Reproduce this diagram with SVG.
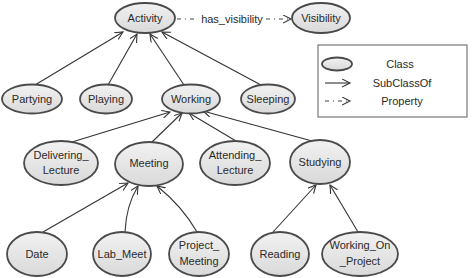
<svg xmlns="http://www.w3.org/2000/svg" width="474" height="278" viewBox="0 0 474 278">
<style>
.n{fill:url(#g);stroke:#4a4a4a;stroke-width:1.8}
.t{font-family:"Liberation Sans",Arial,sans-serif;font-size:11px;fill:#2a2a2a;text-anchor:middle}
.e{fill:none;stroke:#333;stroke-width:1.1}
.d{fill:none;stroke:#444;stroke-width:1.1;stroke-dasharray:4,4,1,4}
</style>
<defs>
<linearGradient id="g" x1="0" y1="0" x2="0" y2="1">
<stop offset="0" stop-color="#f2f2f2"/>
<stop offset="1" stop-color="#d9d9d9"/>
</linearGradient>
<marker id="a" markerUnits="userSpaceOnUse" markerWidth="10" markerHeight="10" refX="8" refY="4" orient="auto" viewBox="0 0 10 10">
<path d="M0,0 L8,4 L0,8" fill="none" stroke="#333" stroke-width="1.1"/>
</marker>
</defs>
<rect width="474" height="278" fill="#fff"/>
<g id="connectors">
<line class="e" x1="35" y1="85" x2="123" y2="32" marker-end="url(#a)"/>
<line class="e" x1="108" y1="85" x2="137" y2="34" marker-end="url(#a)"/>
<line class="e" x1="184" y1="85" x2="150" y2="34" marker-end="url(#a)"/>
<line class="e" x1="261" y1="85" x2="162" y2="32" marker-end="url(#a)"/>
<line class="e" x1="72" y1="142" x2="170" y2="112" marker-end="url(#a)"/>
<line class="e" x1="152" y1="142" x2="182" y2="113" marker-end="url(#a)"/>
<line class="e" x1="236" y1="141" x2="189" y2="113" marker-end="url(#a)"/>
<line class="e" x1="312" y1="141" x2="203" y2="111" marker-end="url(#a)"/>
<line class="e" x1="43" y1="232" x2="128" y2="183" marker-end="url(#a)"/>
<path class="e" d="M125,232 Q126,206 138,186" marker-end="url(#a)"/>
<path class="e" d="M197,232 Q182,206 157,186" marker-end="url(#a)"/>
<line class="e" x1="273" y1="232" x2="316" y2="185" marker-end="url(#a)"/>
<line class="e" x1="358" y1="232" x2="330" y2="185" marker-end="url(#a)"/>
<line class="d" x1="177" y1="19" x2="198" y2="19"/>
<line class="d" x1="266" y1="19" x2="291" y2="19" marker-end="url(#a)"/>
<text class="t" x="232" y="23">has_visibility</text>
</g>
<g id="Activity"><ellipse class="n" cx="145" cy="18" rx="30" ry="15"/><text class="t" x="145" y="22">Activity</text></g>
<g id="Visibility"><ellipse class="n" cx="321" cy="18" rx="29" ry="15"/><text class="t" x="321" y="22">Visibility</text></g>
<g id="Partying"><ellipse class="n" cx="32" cy="99" rx="30" ry="14.5"/><text class="t" x="32" y="103">Partying</text></g>
<g id="Playing"><ellipse class="n" cx="106" cy="99" rx="26" ry="14.5"/><text class="t" x="106" y="103">Playing</text></g>
<g id="Working"><ellipse class="n" cx="191" cy="99" rx="29" ry="14.5"/><text class="t" x="191" y="103">Working</text></g>
<g id="Sleeping"><ellipse class="n" cx="268" cy="99" rx="27" ry="14.5"/><text class="t" x="268" y="103">Sleeping</text></g>
<g id="Delivering_Lecture"><ellipse class="n" cx="61" cy="163" rx="37" ry="22"/><text class="t" x="61" y="159">Delivering_</text><text class="t" x="61" y="174">Lecture</text></g>
<g id="Meeting"><ellipse class="n" cx="149" cy="164" rx="34" ry="22"/><text class="t" x="149" y="167">Meeting</text></g>
<g id="Attending_Lecture"><ellipse class="n" cx="235" cy="163" rx="35" ry="22"/><text class="t" x="235" y="159">Attending_</text><text class="t" x="235" y="174">Lecture</text></g>
<g id="Studying"><ellipse class="n" cx="320" cy="162" rx="30" ry="22"/><text class="t" x="320" y="166">Studying</text></g>
<g id="Date"><ellipse class="n" cx="37" cy="254" rx="30" ry="22"/><text class="t" x="37" y="258">Date</text></g>
<g id="Lab_Meet"><ellipse class="n" cx="122" cy="254" rx="29" ry="22"/><text class="t" x="122" y="258">Lab_Meet</text></g>
<g id="Project_Meeting"><ellipse class="n" cx="199" cy="254" rx="30" ry="22"/><text class="t" x="199" y="249">Project_</text><text class="t" x="199" y="265">Meeting</text></g>
<g id="Reading"><ellipse class="n" cx="280" cy="254" rx="29" ry="22"/><text class="t" x="280" y="258">Reading</text></g>
<g id="Working_On_Project"><ellipse class="n" cx="360" cy="254" rx="38" ry="22"/><text class="t" x="360" y="249">Working_On</text><text class="t" x="360" y="265">_Project</text></g>
<g id="legend">
<rect x="318" y="45" width="149" height="72" fill="#fff" stroke="#777" stroke-width="1.2"/>
<ellipse class="n" cx="337" cy="64" rx="15" ry="6.5"/>
<text class="t" x="400" y="68">Class</text>
<line class="e" x1="325" y1="83" x2="350" y2="83" marker-end="url(#a)"/>
<text class="t" x="402" y="87">SubClassOf</text>
<line class="d" x1="325" y1="101" x2="350" y2="101" marker-end="url(#a)"/>
<text class="t" x="402" y="105">Property</text>
</g>
</svg>
